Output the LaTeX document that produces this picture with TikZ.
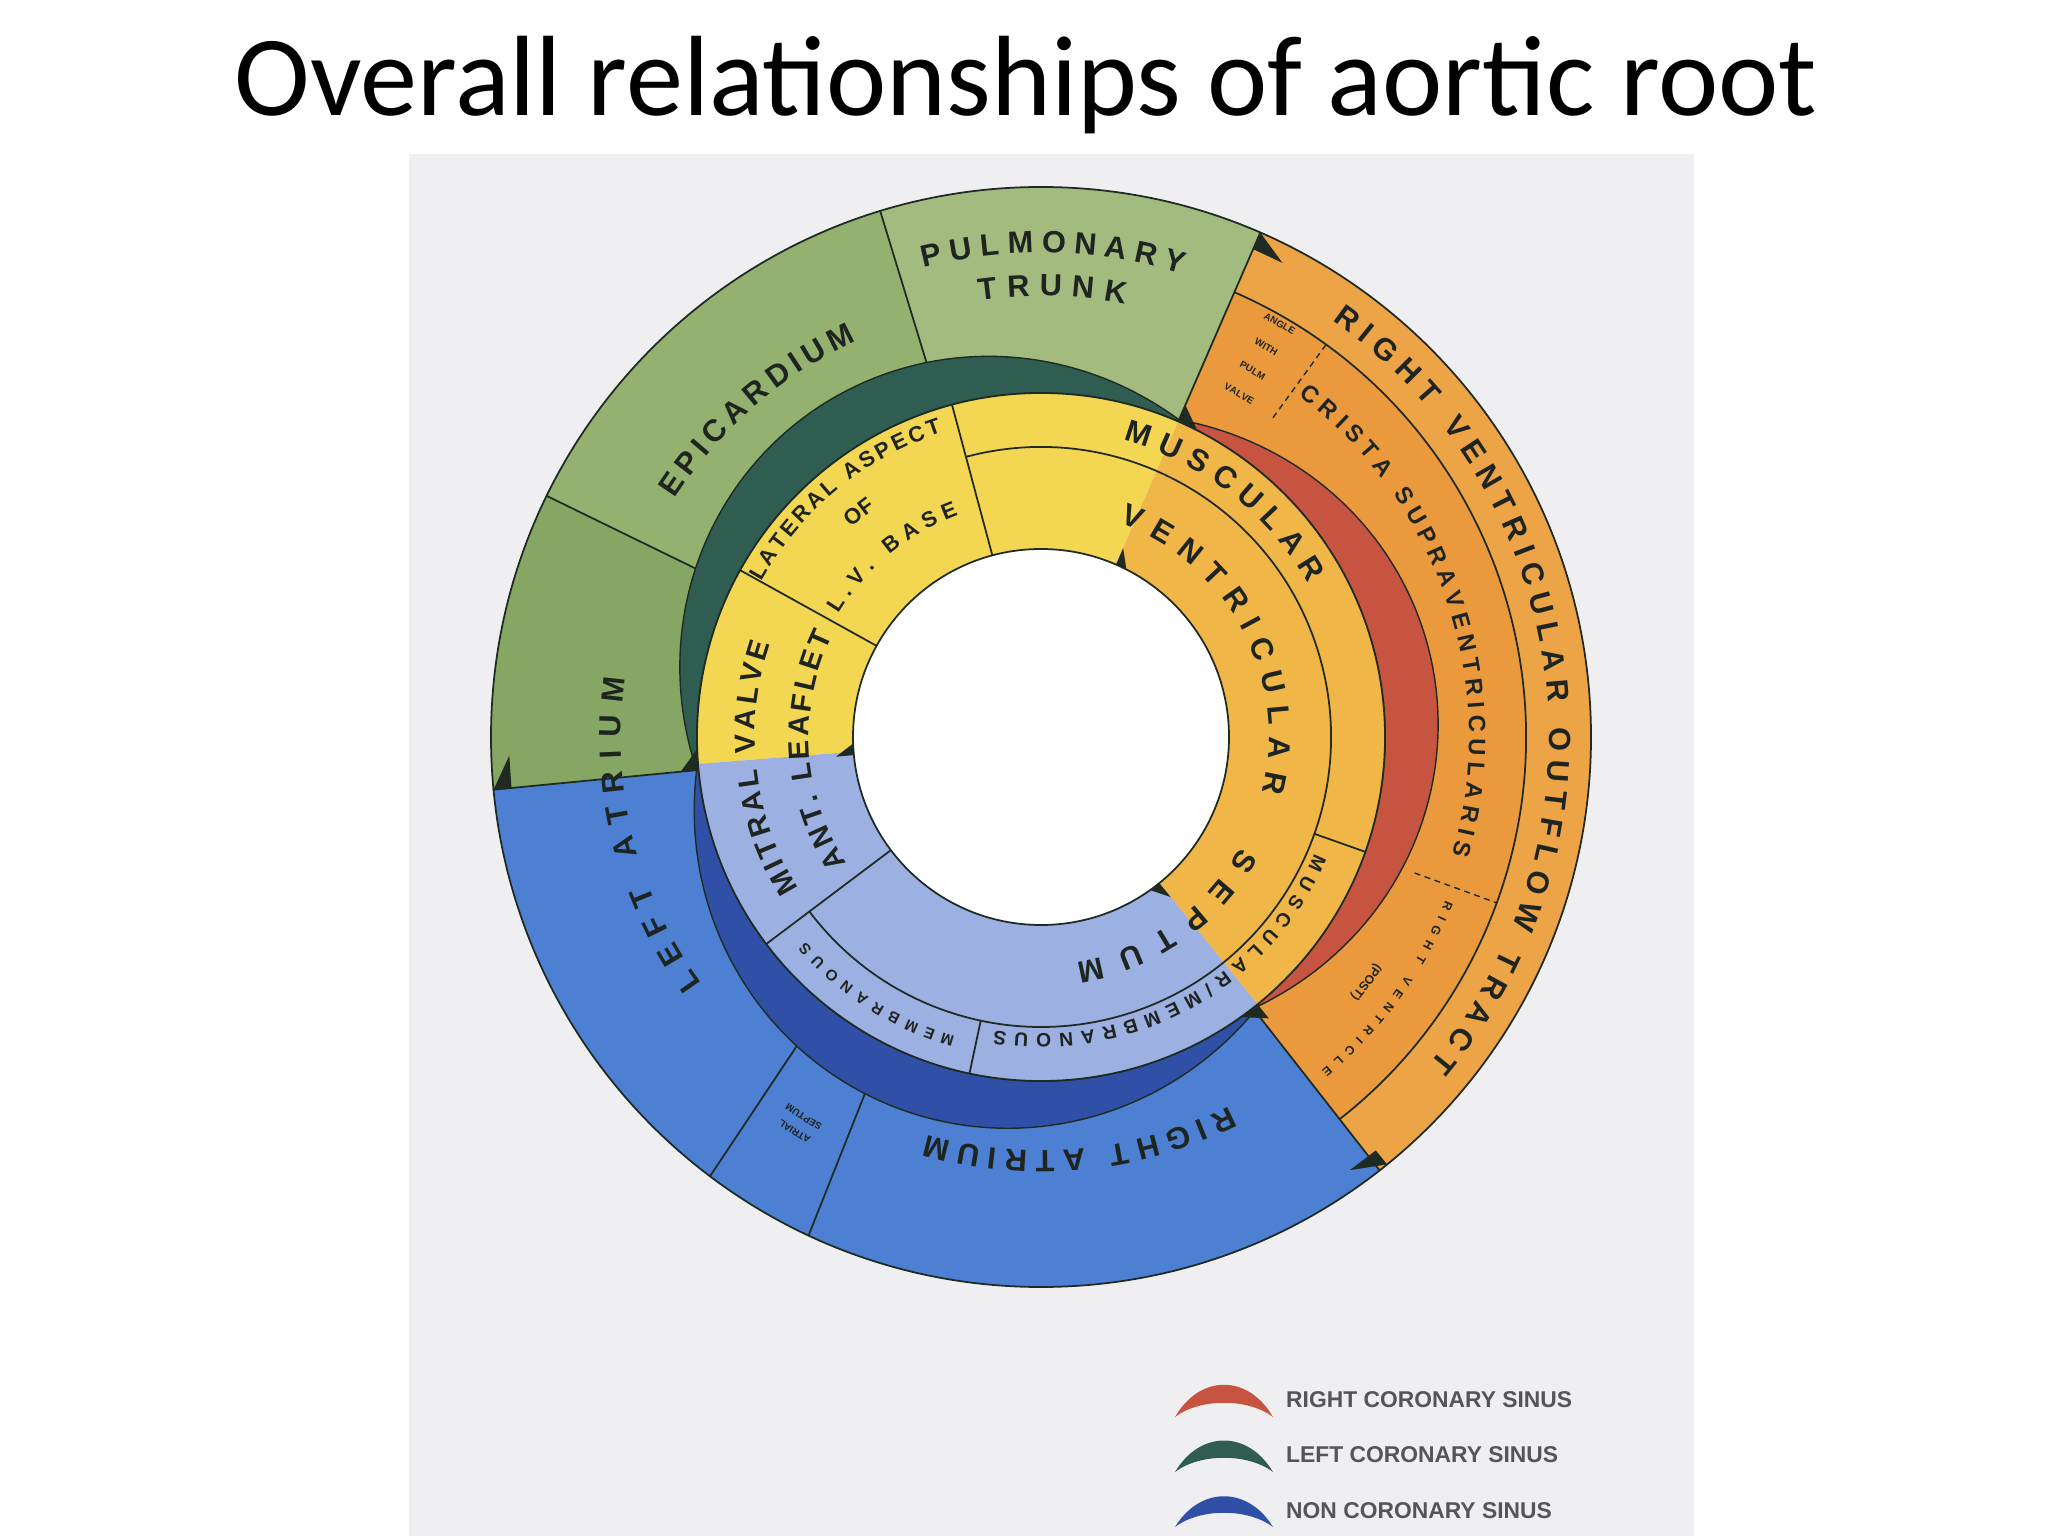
\documentclass[tikz,border=0pt]{standalone}
\usepackage{fontspec}
\setmainfont{Carlito}
\newfontfamily\lab{Liberation Sans}
\usetikzlibrary{decorations.text}
\definecolor{txt}{HTML}{1E2420}
\definecolor{ln}{HTML}{1E2A22}
\definecolor{panel}{HTML}{EFEFF1}
\definecolor{gpt}{HTML}{A4BB80}
\definecolor{gepi}{HTML}{95B16F}
\definecolor{gla}{HTML}{86A763}
\definecolor{sinG}{HTML}{2F5D52}
\definecolor{sinR}{HTML}{C65440}
\definecolor{sinB}{HTML}{3050A8}
\definecolor{bluo}{HTML}{4D80D2}
\definecolor{orao}{HTML}{EDA447}
\definecolor{orac}{HTML}{EA9A3C}
\definecolor{yel}{HTML}{F3D651}
\definecolor{oyel}{HTML}{F1B648}
\definecolor{lav}{HTML}{9CB0E2}
\definecolor{legt}{HTML}{555558}
\def\FA{\lab\bfseries\fontsize{17.5}{18}\selectfont\color{txt}}
\def\FM{\lab\bfseries\fontsize{16.5}{17}\selectfont\color{txt}}
\def\FB{\lab\bfseries\fontsize{13.5}{14}\selectfont\color{txt}}
\def\FC{\lab\bfseries\fontsize{12.5}{13}\selectfont\color{txt}}
\def\FD{\lab\bfseries\fontsize{11}{12}\selectfont\color{txt}}
\def\FE{\lab\bfseries\fontsize{8.7}{9}\selectfont\color{txt}}
\def\FF{\lab\bfseries\fontsize{7}{8}\selectfont\color{txt}}
\def\FG{\lab\bfseries\fontsize{5.5}{6}\selectfont\color{txt}}
% sector: colour, a1, a2, r1, r2
\newcommand\ringsec[5]{\fill[#1] (#2:#4) arc[start angle=#2,end angle=#3,radius=#4] -- (#3:#5) arc[start angle=#3,end angle=#2,radius=#5] -- cycle;}
% crescent: colour, a1, a2
\newcommand\sinus[3]{\filldraw[#1,draw=ln,line width=0.8pt] (#2:344) arc[start angle=#2,end angle=#3,radius=344] -- plot[domain=#3:#2,samples=80,variable=\t] (\t:{346+52*sin(((\t-(#2))/((#3)-(#2)))*180)}) -- cycle;}
% arc text: format, radius, a1, a2, align, text
\newcommand\arctext[6]{\path[decorate,decoration={text along path,text align={#5},text={|#1|#6}}] (#3:#2) arc[start angle=#3,end angle=#4,radius=#2];}
% triangle marker at angle, radius
\newcommand\tri[2]{\fill[ln] (#1:#2) -- (#1:{#2+18}) -- ({#1-3.5}:#2) -- cycle;}
\begin{document}
\begin{tikzpicture}[x=0.02cm,y=0.02cm,line cap=round]
\useasboundingbox (0,0) rectangle (2048,1536);
\fill[white] (0,0) rectangle (2048,1536);
\fill[panel] (409,0) rectangle (1694,1382);
\node[font=\fontsize{65}{72}\selectfont] (title) at (1026,1451) {Overall relationships of aortic root};
\begin{scope}[shift={(1041,799)}]
% outer ring
\ringsec{gpt}{66.5}{107}{340}{550}
\ringsec{gepi}{107}{154}{340}{550}
\ringsec{gla}{154}{185.5}{340}{550}
\ringsec{bluo}{185.5}{308}{340}{550}
\ringsec{orao}{-52}{66.5}{340}{550}
\ringsec{orac}{-52}{66.5}{340}{485}
\begin{scope}[draw=ln,line width=1pt]
\draw (0,0) circle[radius=550];
\foreach \a in {66.5,185.5,-52,107,154} \draw (\a:344) -- (\a:550);
\draw (231:344) -- (233:550);
\draw (243:344) -- (245:550);
\draw (66.5:485) arc[start angle=66.5,end angle=-52,radius=485];
\draw[dashed,line width=0.8pt] (54:395) -- (54:485);
\draw[dashed,line width=0.8pt] (-20:398) -- (-20:485);
\end{scope}
% sinuses
\sinus{sinG}{185.5}{66.5}
\sinus{sinR}{66.5}{-51}
\sinus{sinB}{309}{185.5}
% inner ring
\ringsec{yel}{105}{151}{188}{344}
\ringsec{yel}{66.5}{105}{188}{344}
\ringsec{oyel}{-51}{66.5}{188}{344}
\ringsec{lav}{217}{309}{188}{344}
\ringsec{yel}{151}{184.5}{188}{344}
\ringsec{lav}{184.5}{217}{188}{344}
\begin{scope}[draw=ln,line width=1pt]
\draw (0,0) circle[radius=344];
\foreach \a in {151,105,217} \draw (\a:188) -- (\a:344);
\draw (105:290) arc[start angle=105,end angle=-143,radius=290];
\draw (258:290) -- (258:344);
\draw (-19.5:290) -- (-19.5:344);
\filldraw[fill=white] (0,0) circle[radius=188];
\end{scope}
% markers
\foreach \a in {66.5,185.5,-51}{\tri{\a}{188}\tri{\a}{344}\tri{\a}{532}}
% labels
\arctext{\FA}{484}{104}{73}{fit to path}{PULMONARY}
\arctext{\FA}{441}{98}{79}{fit to path}{TRUNK}
\arctext{\FA}{437}{147}{115}{fit to path}{EPICARDIUM}
\arctext{\FA}{420}{216}{172}{fit to path}{LEFT ATRIUM}
\arctext{\FG}{462}{243}{233}{center}{ATRIAL}
\arctext{\FG}{445}{243}{233}{center}{SEPTUM}
\arctext{\FA}{414}{297}{254}{fit to path}{RIGHT ATRIUM}
\arctext{\FA}{508}{55}{-40}{fit to path}{RIGHT VENTRICULAR OUTFLOW TRACT}
\arctext{\FB}{428}{53}{-16}{fit to path}{CRISTA SUPRAVENTRICULARIS}
\arctext{\FG}{474}{66}{54}{center}{ANGLE}
\arctext{\FG}{447}{66}{54}{center}{WITH}
\arctext{\FG}{420}{66}{54}{center}{PULM}
\arctext{\FG}{393}{66}{54}{center}{VALVE}
\arctext{\FF}{436}{-22}{-50}{fit to path}{RIGHT VENTRICLE}
\arctext{\FF}{404}{-25}{-49}{center}{(POST)}
\arctext{\FA}{308}{74.5}{30}{fit to path}{MUSCULAR}
\arctext{\FA}{228}{70}{-14}{fit to path}{VENTRICULAR}
\arctext{\FA}{228}{-29}{-81}{fit to path}{SEPTUM}
\arctext{\FC}{320}{151}{108}{fit to path}{LATERAL ASPECT}
\arctext{\FC}{282}{140}{118}{center}{OF}
\arctext{\FC}{237}{148.6}{110.4}{fit to path}{L.V. BASE}
\arctext{\FM}{286}{212}{161}{fit to path}{MITRAL VALVE}
\arctext{\FM}{232}{213}{154}{fit to path}{ANT. LEAFLET}
\arctext{\FE}{312}{254}{221}{fit to path}{MEMBRANOUS}
\arctext{\FD}{297}{-23}{-99}{fit to path}{MUSCULAR/MEMBRANOUS}
\end{scope}
% legend
\fill[sinR] (1175,119) .. controls (1200,162) and (1248,162) .. (1273,119) .. controls (1248,138) and (1200,138) .. (1175,119);
\fill[sinG] (1175,64) .. controls (1200,106) and (1248,106) .. (1273,64) .. controls (1248,83) and (1200,83) .. (1175,64);
\fill[sinB] (1175,9) .. controls (1200,50) and (1248,50) .. (1273,9) .. controls (1248,28) and (1200,28) .. (1175,9);
\begin{scope}[every node/.style={anchor=west,font=\lab\bfseries\fontsize{13}{14}\selectfont,text=legt}]
\node (lr) at (1280,136) {RIGHT CORONARY SINUS};
\node (lg) at (1280,81) {LEFT CORONARY SINUS};
\node (lb) at (1280,25) {NON CORONARY SINUS};
\end{scope}
\end{tikzpicture}
\end{document}
